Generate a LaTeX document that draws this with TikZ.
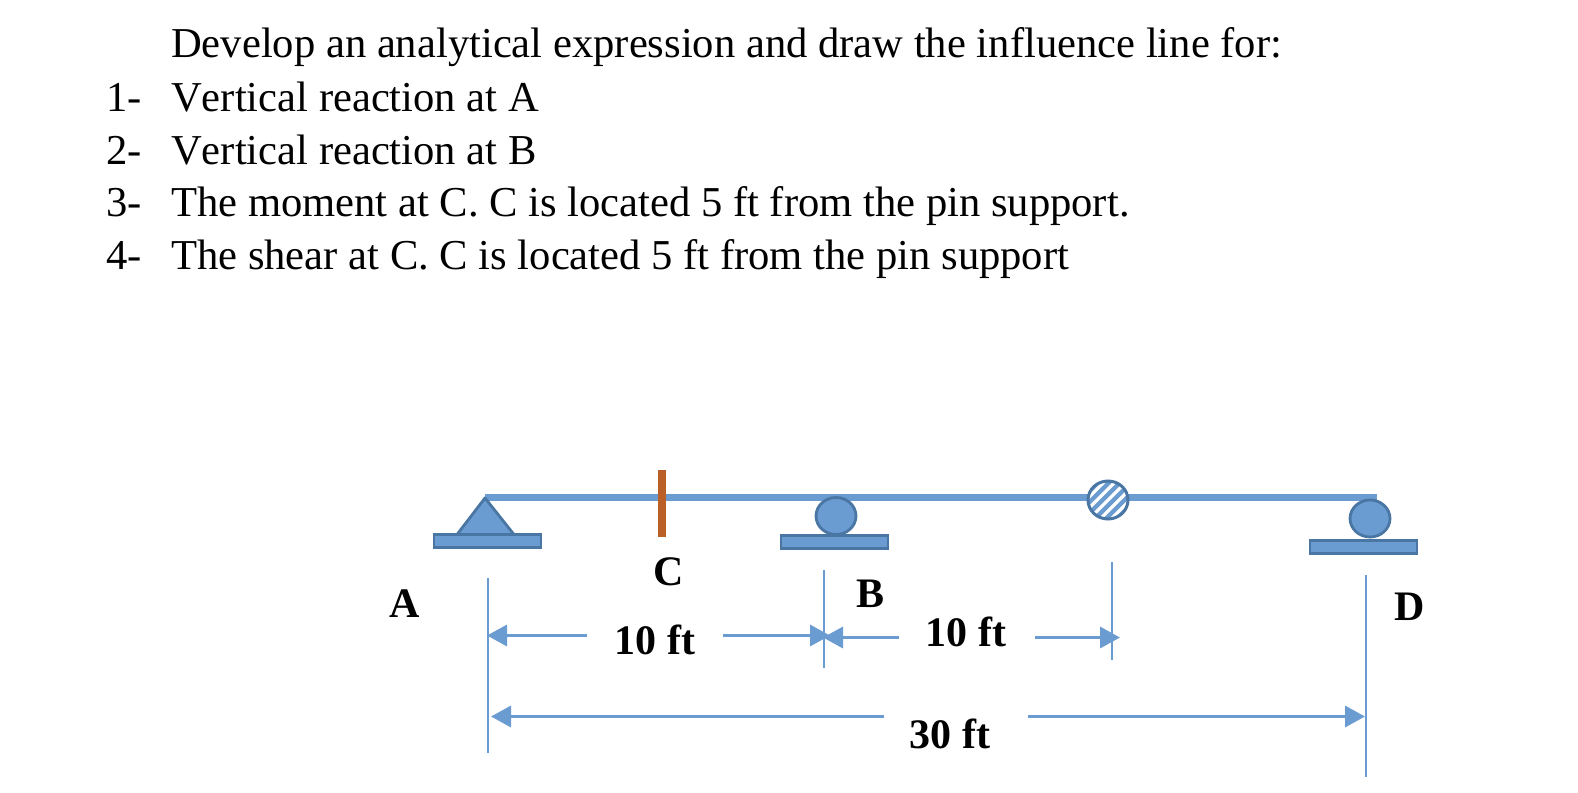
\documentclass[tikz,border=0pt]{standalone}
\usepackage{fontspec}
\setmainfont[Kerning=Off]{Liberation Serif}
\usetikzlibrary{arrows.meta}
\definecolor{beamblue}{HTML}{6A9BD1}
\definecolor{edgeblue}{HTML}{4A76A3}
\definecolor{tickorange}{HTML}{B95F27}
\tikzset{
  x=1pt,y=-1pt,
  body/.style={anchor=base west,inner sep=0pt,font=\fontsize{42.6}{50}\selectfont},
  lab/.style={inner sep=0pt,font=\fontsize{42}{48}\selectfont\bfseries},
  part/.style={draw=edgeblue,fill=beamblue,line width=2.8pt},
  beamline/.style={draw=beamblue,line width=7pt},
  ext/.style={draw=beamblue,line width=1.6pt},
  dimshaft/.style={draw=beamblue,line width=3.4pt},
  dimtip/.style={-{Triangle[length=20pt,width=21pt,fill=beamblue]}},
}
\begin{document}
\begin{tikzpicture}
\useasboundingbox (0,0) rectangle (1578,792);
% text
\node[body] (t0) at (171,58) {Develop an analytical expression and draw the influence line for:};
\node[body] (n1) at (106,111) {1-};
\node[body] (t1) at (171,111) {Vertical reaction at A};
\node[body] (n2) at (106,164) {2-};
\node[body] (t2) at (171,164) {Vertical reaction at B};
\node[body] (n3) at (106,216) {3-};
\node[body] (t3) at (171,216) {The moment at C. C is located 5 ft from the pin support.};
\node[body] (n4) at (106,269) {4-};
\node[body] (t4) at (171,269) {The shear at C. C is located 5 ft from the pin support};
% beam
\coordinate (bl) at (485,497.5);
\coordinate (br) at (1377,497.5);
\draw[beamline] (bl) -- (br);
% C tick
\coordinate (c1) at (662,470);
\coordinate (c2) at (662,536.5);
\draw[draw=tickorange,line width=8pt] (c1) -- (c2);
% support A
\draw[part] (434,534.5) rectangle (541,547.5);
\draw[part,line join=round] (485,498) -- (457,534.5) -- (514,534.5) -- cycle;
% support B
\draw[part] (781,535.5) rectangle (888,548.5);
\draw[part] (836,516) ellipse [x radius=20,y radius=18.5];
% hinge
\begin{scope}
  \clip (1108,500) ellipse [x radius=20,y radius=19];
  \fill[beamblue] (1080,475) rectangle (1136,525);
  \foreach \d in {-44,-33,...,44}
    \draw[white,line width=3.2pt] (1108+\d-25,525) -- (1108+\d+25,475);
\end{scope}
\draw[draw=edgeblue,line width=3pt] (1108,500) ellipse [x radius=20,y radius=19];
% support D
\draw[part] (1310,540.5) rectangle (1417,553.5);
\draw[part] (1370,518.5) ellipse [x radius=20,y radius=18.5];
% extension lines
\coordinate (ea1) at (488,578); \coordinate (ea2) at (488,753);
\coordinate (eb1) at (824,570); \coordinate (eb2) at (824,668);
\coordinate (ee1) at (1112,562); \coordinate (ee2) at (1112,660);
\coordinate (ed1) at (1366,575); \coordinate (ed2) at (1366,777);
\draw[ext] (ea1) -- (ea2);
\draw[ext] (eb1) -- (eb2);
\draw[ext] (ee1) -- (ee2);
\draw[ext] (ed1) -- (ed2);
% labels
\node[lab] (la) at (405,604) {A};
\node[lab] (lc) at (669,572) {C};
\node[lab] (lb) at (870,594) {B};
\node[lab] (ld) at (1410,607) {D};
\node[lab] (d1) at (655,640) {10 ft};
\node[lab] (d2) at (966,632) {10 ft};
\node[lab] (d3) at (950,734) {30 ft};
% dimension arrows
\coordinate (a1s) at (587,635.5); \coordinate (a1e) at (487,635.5);
\coordinate (a2s) at (723,635.5); \coordinate (a2e) at (830,635.5);
\coordinate (a3s) at (899,637.5); \coordinate (a3e) at (823,637.5);
\coordinate (a4s) at (1035,637.5); \coordinate (a4e) at (1120,637.5);
\coordinate (a5s) at (884,716.5); \coordinate (a5e) at (491,716.5);
\coordinate (a6s) at (1028,716.5); \coordinate (a6e) at (1365,716.5);
\foreach \s/\e in {a1s/a1e,a2s/a2e,a3s/a3e,a4s/a4e,a5s/a5e,a6s/a6e}
  \draw[dimshaft,dimtip] (\s) -- (\e);
\end{tikzpicture}
\end{document}
